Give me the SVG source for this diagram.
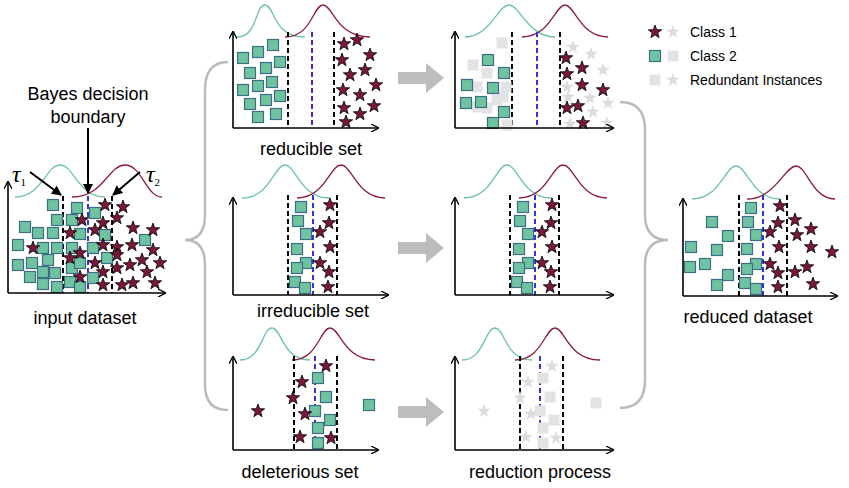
<svg xmlns="http://www.w3.org/2000/svg" width="849" height="488" viewBox="0 0 849 488">
<style>
.ax{stroke:#000;stroke-width:1.6;fill:none;marker-end:url(#ah)}
.g{stroke:#6cc39c;stroke-width:1.3;fill:none}
.r{stroke:#8b1a45;stroke-width:1.3;fill:none}
.bd{stroke:#000;stroke-width:2;stroke-dasharray:5,3}
.bl{stroke:#3333dd;stroke-width:2;stroke-dasharray:5,3}
.t{font-family:"Liberation Sans",Arial,sans-serif;font-size:18px;text-anchor:middle;fill:#000}
.lg{font-family:"Liberation Sans",Arial,sans-serif;font-size:14px;fill:#000}
.br{stroke:#bbb;stroke-width:2.5;fill:none}
</style>
<defs>
<marker id="ah" markerWidth="8" markerHeight="8" refX="7" refY="4" orient="auto" markerUnits="userSpaceOnUse"><path d="M0,0 L8,4 L0,8" fill="none" stroke="#000" stroke-width="1.3"/></marker>
<marker id="ar" markerWidth="10" markerHeight="10" refX="9" refY="5" orient="auto" markerUnits="userSpaceOnUse"><path d="M0,0 L10,5 L0,10 Z" fill="#000"/></marker>
<polygon id="st" points="0,-7 1.7,-2.3 6.7,-2.2 2.7,0.9 4.1,5.7 0,2.9 -4.1,5.7 -2.7,0.9 -6.7,-2.2 -1.7,-2.3" fill="#7a1838" stroke="#000" stroke-width="0.8"/>
<polygon id="gs" points="0,-7 1.7,-2.3 6.7,-2.2 2.7,0.9 4.1,5.7 0,2.9 -4.1,5.7 -2.7,0.9 -6.7,-2.2 -1.7,-2.3" fill="#dcdcdc"/>
<rect id="sq" x="-5.5" y="-5.5" width="11" height="11" fill="#6fc3a0" stroke="#3d6e86" stroke-width="1.2"/>
<rect id="gq" x="-5.5" y="-5.5" width="11" height="11" fill="#e3e3e3"/>
<path id="arw" d="M0,-6 H28 V-15 L46,0 L28,15 V6 H0 Z" fill="#bdbdbd"/>
</defs>

<g id="connectors">
<use href="#arw" x="398" y="78"/>
<use href="#arw" x="398" y="248"/>
<use href="#arw" x="398" y="412"/>
<path class="br" d="M228,62 Q205,62 205,90 V215 Q205,240 185,240 Q205,240 205,265 V385 Q205,410 228,410"/>
<path class="br" d="M620,102 Q645,102 645,130 V215 Q645,240 668,240 Q645,240 645,265 V380 Q645,408 620,408"/>
</g>

<g id="legend">
<use href="#st" x="655" y="32"/><use href="#gs" x="673" y="32"/><text class="lg" x="690" y="37">Class 1</text>
<use href="#sq" x="655" y="56"/><use href="#gq" x="673" y="56"/><text class="lg" x="690" y="61">Class 2</text>
<use href="#gq" x="655" y="80"/><use href="#gs" x="673" y="80"/><text class="lg" x="690" y="85">Redundant Instances</text>
</g>

<g id="input-dataset">
<path class="g" d="M15,197 C42,197 46,165 60,165 C74,165 78,197 105,197"/>
<path class="r" d="M72,197 C104,197 108,165 125,165 C142,165 146,197 162,197"/>
<line class="bd" x1="63" y1="196" x2="63" y2="293"/><line class="bd" x1="112" y1="196" x2="112" y2="293"/><line class="bl" x1="88" y1="196" x2="88" y2="293"/>
<use href="#sq" x="53" y="205"/><use href="#sq" x="57" y="220"/><use href="#sq" x="25" y="227"/><use href="#sq" x="38" y="233"/><use href="#sq" x="53" y="233"/><use href="#sq" x="72" y="220"/><use href="#sq" x="77" y="208"/><use href="#sq" x="80" y="234"/><use href="#sq" x="95" y="213"/><use href="#sq" x="18" y="245"/><use href="#sq" x="43" y="248"/><use href="#sq" x="57" y="248"/><use href="#sq" x="72" y="248"/><use href="#sq" x="93" y="248"/><use href="#sq" x="105" y="235"/><use href="#sq" x="107" y="258"/><use href="#sq" x="18" y="265"/><use href="#sq" x="32" y="263"/><use href="#sq" x="48" y="260"/><use href="#sq" x="72" y="268"/><use href="#sq" x="80" y="263"/><use href="#sq" x="93" y="278"/><use href="#sq" x="30" y="277"/><use href="#sq" x="43" y="272"/><use href="#sq" x="55" y="273"/><use href="#sq" x="43" y="284"/><use href="#sq" x="57" y="287"/><use href="#sq" x="70" y="282"/><use href="#sq" x="80" y="287"/><use href="#sq" x="145" y="240"/>
<use href="#st" x="105" y="205"/><use href="#st" x="123" y="207"/><use href="#st" x="82" y="220"/><use href="#st" x="103" y="223"/><use href="#st" x="117" y="218"/><use href="#st" x="70" y="233"/><use href="#st" x="95" y="230"/><use href="#st" x="133" y="228"/><use href="#st" x="153" y="230"/><use href="#st" x="103" y="245"/><use href="#st" x="117" y="247"/><use href="#st" x="132" y="245"/><use href="#st" x="33" y="248"/><use href="#st" x="80" y="253"/><use href="#st" x="70" y="258"/><use href="#st" x="117" y="255"/><use href="#st" x="153" y="250"/><use href="#st" x="95" y="263"/><use href="#st" x="103" y="272"/><use href="#st" x="117" y="268"/><use href="#st" x="130" y="265"/><use href="#st" x="142" y="260"/><use href="#st" x="160" y="263"/><use href="#st" x="80" y="277"/><use href="#st" x="103" y="285"/><use href="#st" x="122" y="285"/><use href="#st" x="133" y="283"/><use href="#st" x="155" y="283"/><use href="#st" x="147" y="272"/>
<path class="ax" d="M8,293 V182"/><path class="ax" d="M8,293 H165"/>
<text class="t" x="85" y="324">input dataset</text>
<text class="t" x="88" y="100">Bayes decision</text>
<text class="t" x="88" y="123">boundary</text>
<line x1="88" y1="128" x2="88" y2="193" stroke="#000" stroke-width="2" marker-end="url(#ar)"/>
<line x1="30" y1="172" x2="61" y2="195" stroke="#000" stroke-width="2" marker-end="url(#ar)"/>
<line x1="140" y1="172" x2="113" y2="195" stroke="#000" stroke-width="2" marker-end="url(#ar)"/>
<text x="12" y="182" font-family="'Liberation Serif',serif" font-style="italic" font-size="24">τ<tspan font-size="11" dy="4" font-style="normal">1</tspan></text>
<text x="146" y="182" font-family="'Liberation Serif',serif" font-style="italic" font-size="24">τ<tspan font-size="11" dy="4" font-style="normal">2</tspan></text>
</g>

<g id="reducible-set">
<path class="g" d="M237,37 C258,37 255,5 265,5 C275,5 272,37 305,37"/>
<path class="r" d="M285,37 C312,37 313,5 323,5 C333,5 336,37 370,37"/>
<line class="bd" x1="288" y1="32" x2="288" y2="128"/><line class="bd" x1="334" y1="32" x2="334" y2="128"/><line class="bl" x1="312" y1="32" x2="312" y2="128"/>
<use href="#sq" x="243" y="58"/><use href="#sq" x="258" y="52"/><use href="#sq" x="273" y="45"/><use href="#sq" x="250" y="73"/><use href="#sq" x="266" y="68"/><use href="#sq" x="280" y="62"/><use href="#sq" x="243" y="90"/><use href="#sq" x="258" y="86"/><use href="#sq" x="272" y="82"/><use href="#sq" x="250" y="104"/><use href="#sq" x="266" y="100"/><use href="#sq" x="280" y="96"/><use href="#sq" x="258" y="117"/><use href="#sq" x="276" y="114"/>
<use href="#st" x="344" y="44"/><use href="#st" x="357" y="40"/><use href="#st" x="342" y="60"/><use href="#st" x="370" y="55"/><use href="#st" x="350" y="75"/><use href="#st" x="365" y="70"/><use href="#st" x="343" y="90"/><use href="#st" x="360" y="95"/><use href="#st" x="376" y="85"/><use href="#st" x="344" y="108"/><use href="#st" x="360" y="114"/><use href="#st" x="374" y="106"/><use href="#st" x="346" y="122"/>
<path class="ax" d="M233,128 V32"/><path class="ax" d="M233,128 H378"/>
<text class="t" x="311" y="155">reducible set</text>
</g>

<g id="reduced-top">
<path class="g" d="M465,37 C490,37 498,5 509,5 C520,5 528,37 555,37"/>
<path class="r" d="M522,37 C550,37 555,5 565,5 C575,5 580,37 608,37"/>
<line class="bd" x1="512" y1="32" x2="512" y2="128"/><line class="bd" x1="560" y1="32" x2="560" y2="128"/><line class="bl" x1="537" y1="32" x2="537" y2="128"/>
<use href="#gq" x="502" y="43"/><use href="#gq" x="473" y="65"/><use href="#gq" x="487" y="73"/><use href="#gq" x="506" y="87"/><use href="#gq" x="477" y="87"/><use href="#gq" x="497" y="100"/><use href="#gq" x="487" y="108"/><use href="#gq" x="477" y="107"/><use href="#gq" x="507" y="125"/><use href="#gq" x="503" y="97"/>
<use href="#sq" x="488" y="60"/><use href="#sq" x="504" y="73"/><use href="#sq" x="467" y="85"/><use href="#sq" x="493" y="88"/><use href="#sq" x="466" y="103"/><use href="#sq" x="481" y="102"/><use href="#sq" x="504" y="112"/><use href="#sq" x="493" y="123"/>
<use href="#gs" x="573" y="47"/><use href="#gs" x="591" y="54"/><use href="#gs" x="603" y="70"/><use href="#gs" x="567" y="87"/><use href="#gs" x="590" y="98"/><use href="#gs" x="608" y="103"/><use href="#gs" x="593" y="112"/><use href="#gs" x="570" y="124"/><use href="#gs" x="607" y="123"/><use href="#gs" x="568" y="97"/>
<use href="#st" x="566" y="58"/><use href="#st" x="582" y="68"/><use href="#st" x="567" y="74"/><use href="#st" x="582" y="85"/><use href="#st" x="603" y="90"/><use href="#st" x="567" y="108"/><use href="#st" x="578" y="106"/><use href="#st" x="583" y="123"/>
<path class="ax" d="M455,128 V32"/><path class="ax" d="M455,128 H613"/>
</g>

<g id="irreducible-set">
<path class="g" d="M242,198 C270,198 274,165 285,165 C296,165 300,198 330,198"/>
<path class="r" d="M297,198 C325,198 330,165 341,165 C352,165 357,198 385,198"/>
<line class="bd" x1="288" y1="195" x2="288" y2="295"/><line class="bd" x1="337" y1="195" x2="337" y2="295"/><line class="bl" x1="313" y1="195" x2="313" y2="295"/>
<use href="#sq" x="301" y="207"/><use href="#sq" x="298" y="221"/><use href="#sq" x="306" y="234"/><use href="#sq" x="297" y="249"/><use href="#sq" x="306" y="263"/><use href="#sq" x="297" y="268"/><use href="#sq" x="295" y="282"/><use href="#sq" x="305" y="288"/>
<use href="#st" x="330" y="205"/><use href="#st" x="329" y="223"/><use href="#st" x="320" y="232"/><use href="#st" x="330" y="247"/><use href="#st" x="320" y="263"/><use href="#st" x="329" y="272"/><use href="#st" x="328" y="287"/>
<path class="ax" d="M233,295 V198"/><path class="ax" d="M233,295 H388"/>
<text class="t" x="313" y="317">irreducible set</text>
</g>

<g id="reduced-middle">
<path class="g" d="M464,198 C492,198 496,165 507,165 C518,165 522,198 552,198"/>
<path class="r" d="M519,198 C547,198 552,165 563,165 C574,165 579,198 607,198"/>
<line class="bd" x1="510" y1="195" x2="510" y2="295"/><line class="bd" x1="559" y1="195" x2="559" y2="295"/><line class="bl" x1="535" y1="195" x2="535" y2="295"/>
<use href="#sq" x="523" y="207"/><use href="#sq" x="520" y="221"/><use href="#sq" x="528" y="234"/><use href="#sq" x="519" y="249"/><use href="#sq" x="528" y="263"/><use href="#sq" x="519" y="268"/><use href="#sq" x="517" y="282"/><use href="#sq" x="527" y="288"/>
<use href="#st" x="552" y="205"/><use href="#st" x="551" y="223"/><use href="#st" x="542" y="232"/><use href="#st" x="552" y="247"/><use href="#st" x="542" y="263"/><use href="#st" x="551" y="272"/><use href="#st" x="550" y="287"/>
<path class="ax" d="M455,295 V198"/><path class="ax" d="M455,295 H613"/>
</g>

<g id="deleterious-set">
<path class="g" d="M240,360 C262,360 262,328 272,328 C282,328 282,360 310,360"/>
<path class="r" d="M292,360 C318,360 320,328 330,328 C340,328 344,360 375,360"/>
<line class="bd" x1="294" y1="356" x2="294" y2="450"/><line class="bd" x1="337" y1="356" x2="337" y2="450"/><line class="bl" x1="315" y1="356" x2="315" y2="450"/>
<use href="#sq" x="318" y="378"/><use href="#sq" x="326" y="397"/><use href="#sq" x="315" y="411"/><use href="#sq" x="330" y="420"/><use href="#sq" x="318" y="428"/><use href="#sq" x="318" y="443"/><use href="#sq" x="369" y="405"/>
<use href="#st" x="258" y="411"/><use href="#st" x="302" y="382"/><use href="#st" x="293" y="398"/><use href="#st" x="305" y="414"/><use href="#st" x="300" y="437"/><use href="#st" x="326" y="366"/><use href="#st" x="331" y="438"/>
<path class="ax" d="M233,450 V357"/><path class="ax" d="M233,450 H378"/>
<text class="t" x="300" y="478">deleterious set</text>
</g>

<g id="reduction-process">
<path class="g" d="M462,360 C484,360 485,328 495,328 C505,328 505,360 532,360"/>
<path class="r" d="M515,360 C542,360 545,328 555,328 C565,328 568,360 600,360"/>
<line class="bd" x1="520" y1="356" x2="520" y2="450"/><line class="bd" x1="563" y1="356" x2="563" y2="450"/><line class="bl" x1="540" y1="356" x2="540" y2="450"/>
<use href="#gq" x="543" y="378"/><use href="#gq" x="550" y="397"/><use href="#gq" x="540" y="411"/><use href="#gq" x="554" y="420"/><use href="#gq" x="543" y="428"/><use href="#gq" x="543" y="443"/><use href="#gq" x="596" y="403"/>
<use href="#gs" x="484" y="411"/><use href="#gs" x="528" y="382"/><use href="#gs" x="520" y="398"/><use href="#gs" x="531" y="414"/><use href="#gs" x="526" y="437"/><use href="#gs" x="552" y="366"/><use href="#gs" x="556" y="438"/>
<path class="ax" d="M455,450 V357"/><path class="ax" d="M455,450 H613"/>
<text class="t" x="540" y="478">reduction process</text>
</g>

<g id="reduced-dataset">
<path class="g" d="M692,199 C720,199 725,166 736,166 C747,166 752,199 780,199"/>
<path class="r" d="M747,199 C775,199 785,166 796,166 C807,166 812,199 835,199"/>
<line class="bd" x1="739" y1="195" x2="739" y2="296"/><line class="bd" x1="787" y1="195" x2="787" y2="296"/><line class="bl" x1="763" y1="195" x2="763" y2="296"/>
<use href="#sq" x="751" y="208"/><use href="#sq" x="748" y="222"/><use href="#sq" x="712" y="222"/><use href="#sq" x="728" y="236"/><use href="#sq" x="756" y="235"/><use href="#sq" x="691" y="247"/><use href="#sq" x="717" y="250"/><use href="#sq" x="747" y="249"/><use href="#sq" x="690" y="267"/><use href="#sq" x="705" y="264"/><use href="#sq" x="756" y="264"/><use href="#sq" x="747" y="269"/><use href="#sq" x="728" y="275"/><use href="#sq" x="717" y="285"/><use href="#sq" x="745" y="283"/><use href="#sq" x="756" y="289"/>
<use href="#st" x="780" y="206"/><use href="#st" x="795" y="220"/><use href="#st" x="778" y="223"/><use href="#st" x="770" y="232"/><use href="#st" x="797" y="235"/><use href="#st" x="811" y="229"/><use href="#st" x="779" y="247"/><use href="#st" x="811" y="247"/><use href="#st" x="832" y="252"/><use href="#st" x="770" y="264"/><use href="#st" x="778" y="273"/><use href="#st" x="795" y="272"/><use href="#st" x="807" y="267"/><use href="#st" x="778" y="287"/><use href="#st" x="813" y="284"/>
<path class="ax" d="M683,296 V199"/><path class="ax" d="M683,296 H837"/>
<text class="t" x="748" y="323">reduced dataset</text>
</g>
</svg>
